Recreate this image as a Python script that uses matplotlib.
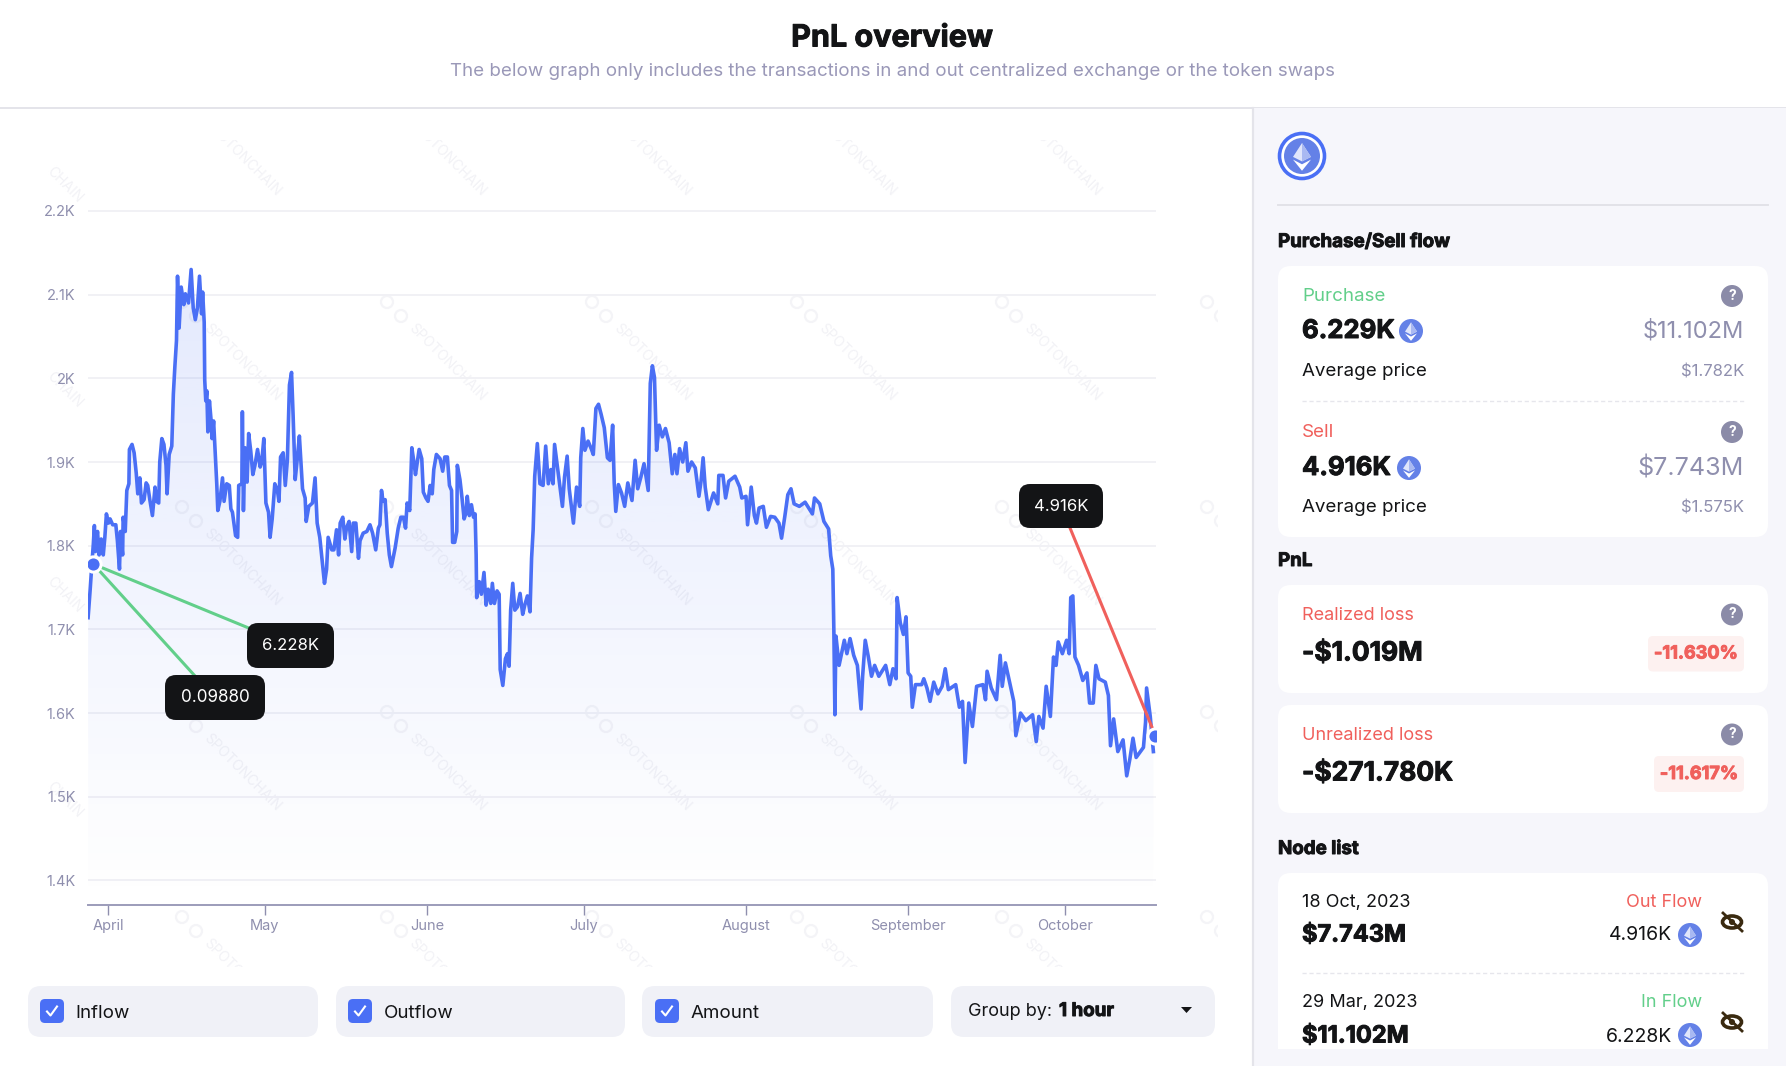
import numpy as np
import matplotlib
matplotlib.use("Agg")
import matplotlib.pyplot as plt
import matplotlib.patheffects as pe
from matplotlib.patches import FancyBboxPatch, Circle, Ellipse, Polygon, Rectangle

W, H = 1786, 1066
plt.rcParams['font.family'] = ['Inter', 'DejaVu Sans']

# days since 1 April 2023, price in USD
days_a = [-3.8,-3.4,-3.1,-2.8,-2.6,-2.4,-2.0,-1.7,-1.3,-0.9,
          -0.6,-0.3,0.1,0.4,0.9,1.5,1.8,2.2,2.4,2.8,
          2.9,3.3,3.6,4.0,4.1,4.6,5.0,5.4,5.7,6.1,
          6.4,6.9,7.3,7.6,8.0,8.5,9.0,9.3,9.7,9.9,
          10.3,10.7,11.1,11.3,11.7,12.2,12.5,12.8,13.1,13.3,
          13.6,14.0,14.5,14.8,15.4,15.9,16.3,16.7,17.1,17.5,
          17.9,18.1,18.4,18.5,18.7,18.9,19.1,19.4,19.7,19.9,
          20.2,20.5,20.8,21.0,21.4,21.9,22.2,22.7,23.2,23.5,
          23.8,24.4,24.8,25.0,25.6,25.7,25.9,26.2,26.6,26.9,
          27.3,27.7,28.1,28.6,29.1,29.4,29.8,30.2,30.7,31.0,
          31.4,31.9,32.4,32.7,33.0,33.5,33.9,34.3,34.7,35.1,
          35.4,35.8,36.2,36.6,37.2,37.7,37.9,38.4,39.1,39.6,
          40.0,40.5,40.9,41.4,41.8,42.1,42.8,43.2,43.7,44.1,
          44.4,44.9,45.3,45.6,46.1,46.6,46.9,47.4,47.9,48.2,
          48.8,49.5,50.1,50.6,51.2,51.7,52.0,52.3,52.6,53.0,
          53.4,53.8,54.2,54.9,55.5,56.0,56.5,56.9,57.2,57.7,
          58.1,58.5,58.8,59.5,60.0,60.3,60.8,61.2,61.6,62.0,
          62.3,62.8,63.5,64.0,64.4,64.9,65.3,65.7,65.9,66.3,
          66.7,66.8,67.3,67.7,68.1,68.5,68.7,69.1,69.5,69.9,
          70.2,70.4,70.5,71.0,71.4,71.9,72.3,72.7,73.2,73.5,
          73.9,74.4,74.8,75.0,75.5,76.0,76.4,76.7,77.0,77.4,
          77.8,78.3,78.8,79.3,79.7,80.2,80.7,81.0,81.3,81.6,
          82.1,82.6,83.2,83.7,84.2,84.7,85.1,85.4,85.9,86.3]
price_a = [1714,1748,1776,1802,1824,1793,1817,1789,1808,1789,
           1810,1838,1827,1832,1825,1825,1806,1772,1817,1789,
           1834,1817,1866,1874,1915,1921,1911,1887,1862,1881,
           1851,1855,1875,1872,1855,1836,1870,1853,1851,1900,
           1928,1921,1896,1862,1909,1919,1981,2015,2045,2122,
           2060,2109,2088,2101,2090,2130,2084,2070,2084,2122,
           2077,2103,2067,1998,1973,1985,1936,1973,1951,1928,
           1949,1911,1874,1842,1853,1881,1853,1874,1872,1844,
           1840,1812,1810,1872,1874,1960,1842,1917,1876,1934,
           1913,1885,1896,1915,1894,1900,1928,1851,1840,1810,
           1832,1874,1866,1853,1906,1911,1872,1902,1992,2007,
           1956,1879,1904,1931,1868,1857,1829,1847,1851,1881,
           1827,1810,1785,1755,1772,1810,1795,1795,1819,1789,
           1827,1834,1808,1821,1829,1793,1827,1827,1785,1806,
           1815,1817,1825,1815,1795,1821,1825,1866,1853,1855,
           1815,1789,1775,1797,1821,1834,1834,1821,1851,1842,
           1917,1900,1885,1915,1904,1864,1857,1853,1872,1862,
           1891,1909,1904,1889,1906,1906,1872,1866,1804,1804,
           1817,1896,1879,1857,1832,1840,1859,1836,1849,1834,
           1838,1789,1738,1757,1742,1768,1729,1748,1731,1755,
           1731,1746,1742,1652,1633,1665,1671,1656,1723,1755,
           1723,1727,1743,1718,1729,1740,1721,1785,1819,1883,
           1922,1874,1872,1919,1874,1891,1874,1921,1896,1876]
days_b = [86.9,87.3,87.8,88.2,89.0,89.6,90.2,90.4,90.8,91.2,
          91.8,92.4,92.8,93.3,93.8,94.3,94.9,95.5,96.0,96.5,
          96.8,97.1,97.6,98.2,98.8,99.4,100.2,100.8,101.3,101.9,
          102.5,103.3,103.7,104.1,104.5,104.9,105.4,106.0,106.6,107.3,
          107.9,108.4,108.8,109.3,109.9,110.5,110.9,111.6,112.3,113.0,
          113.4,113.8,114.2,114.8,115.8,116.6,116.8,117.6,118.1,118.7,
          119.9,120.8,121.2,122.0,122.3,123.0,123.6,124.0,124.5,125.3,
          125.9,126.7,127.5,128.3,128.8,129.4,130.0,130.6,131.2,132.2,
          133.3,134.7,135.1,136.1,136.9,137.8,138.2,138.6,138.8,139.0,
          139.2,139.8,140.2,140.8,141.3,141.9,142.6,143.3,144.0,144.3,
          144.8,145.4,146.0,146.6,147.4,148.7,149.5,150.1,150.7,150.9,
          151.5,152.1,152.6,153.0,153.5,153.8,154.4,155.6,156.0,156.6,
          157.2,157.9,158.7,159.5,160.1,160.7,162.1,162.8,163.4,163.9,
          164.6,165.3,166.1,167.3,167.8,168.1,168.9,169.9,170.6,171.0,
          171.6,172.4,173.2,173.6,174.5,175.5,176.8,177.5,178.0,178.8,
          179.4,180.2,180.8,181.3,181.7,182.5,183.3,183.8,184.1,184.5,
          184.9,185.6,186.4,187.2,187.7,188.4,188.9,189.5,190.7,191.3,
          191.7,192.3,193.1,194.1,194.8,195.4,196.0,196.6,198.0,198.4,
          198.6,199.3,199.9]
price_b = [1847,1882,1907,1868,1827,1870,1847,1905,1940,1914,
           1925,1916,1909,1964,1969,1957,1941,1905,1902,1944,
           1875,1841,1873,1863,1847,1875,1854,1902,1868,1882,
           1898,1866,1994,2015,2001,1914,1944,1930,1940,1923,
           1886,1909,1886,1916,1900,1923,1889,1900,1893,1859,
           1877,1905,1870,1843,1863,1850,1884,1884,1857,1877,
           1883,1870,1857,1859,1825,1870,1836,1827,1845,1847,
           1822,1835,1834,1827,1809,1834,1861,1868,1850,1847,
           1852,1838,1857,1850,1829,1820,1788,1772,1699,1598,
           1692,1657,1669,1687,1671,1689,1669,1657,1605,1644,
           1687,1667,1644,1657,1644,1657,1634,1653,1641,1738,
           1708,1694,1715,1648,1644,1607,1634,1634,1641,1630,
           1614,1637,1623,1632,1653,1628,1634,1607,1614,1541,
           1612,1584,1632,1634,1616,1650,1630,1616,1669,1632,
           1660,1637,1614,1573,1600,1591,1598,1566,1596,1582,
           1632,1596,1667,1657,1685,1671,1687,1671,1738,1740,
           1667,1657,1639,1648,1612,1612,1657,1641,1637,1621,
           1561,1593,1554,1568,1525,1545,1570,1547,1559,1589,
           1630,1596,1554]

month_days = [0, 30, 61, 91, 122, 153, 183]
month_names = ['April', 'May', 'June', 'July', 'August', 'September', 'October']
y_ticks = [1400, 1500, 1600, 1700, 1800, 1900, 2000, 2100, 2200]
y_labels = ['1.4K', '1.5K', '1.6K', '1.7K', '1.8K', '1.9K', '2K', '2.1K', '2.2K']

# flow nodes on the chart
buy_day, buy_price = -2.8, 1778
sell_day, sell_price = 200.3, 1573

BLUE = '#4a6ff5'
GREEN = '#62cf8a'
RED = '#f0605c'
DARK = '#131416'
GREY = '#8f8fae'
ETH = '#6481e7'

fig = plt.figure(figsize=(W / 100, H / 100), dpi=100, facecolor='white')


def full_axes(z):
    a = fig.add_axes([0, 0, 1, 1], zorder=z)
    a.set_xlim(0, W)
    a.set_ylim(H, 0)
    a.axis('off')
    return a


bg = full_axes(0)
ui = full_axes(5)

# watermark behind the chart
wm_clip = Rectangle((28, 140), 1190, 827, transform=bg.transData)
for wx in range(-23, 1230, 205):
    for wy in range(97, 960, 205):
        for off, rad in ((0, 6), (14, 6)):
            c = Circle((wx + off, wy + off), rad, fill=False, ec='#f4f4f7', lw=1.6)
            bg.add_patch(c)
            c.set_clip_path(wm_clip)
        if wx < 0:
            # only the tail of the word shows in the left column
            t = bg.text(wx + 72, wy + 72, 'CHAIN', fontsize=10, color='#f2f2f6', rotation=-45,
                        rotation_mode='anchor', ha='left', va='center', clip_on=True)
        elif wx > 1150:
            continue
        else:
            t = bg.text(wx + 24, wy + 24, 'SPOTONCHAIN', fontsize=10, color='#f2f2f6', rotation=-45,
                        rotation_mode='anchor', ha='left', va='center', clip_on=True)
        t.set_clip_path(wm_clip)

# main chart
days = np.array(days_a + days_b)
price = np.array(price_a + price_b)
ax = fig.add_axes([88 / W, (H - 904.5) / H, 1068 / W, 789.5 / H], zorder=2)
ax.patch.set_alpha(0)
x_lim = (-3.82, 200.4)
y_lim = (1371.3, 2314.6)

shade = np.zeros((256, 1, 4))
shade[:, 0, 0:3] = matplotlib.colors.to_rgb(BLUE)
shade[:, 0, 3] = np.linspace(0.15, 0.0, 256)
im = ax.imshow(shade, extent=(x_lim[0], x_lim[1], y_lim[0], 2130), origin='upper', aspect='auto', zorder=1)
area = ax.fill_between(days, price, y_lim[0], color='none', lw=0)
im.set_clip_path(area.get_paths()[0], transform=ax.transData)

ax.plot(days, price, color=BLUE, lw=2.6, solid_joinstyle='round', zorder=3)

ax.set_xlim(*x_lim)
ax.set_ylim(*y_lim)
ax.set_yticks(y_ticks)
ax.set_yticklabels(y_labels)
ax.set_xticks(month_days)
ax.set_xticklabels(month_names)
ax.tick_params(axis='y', length=0, pad=9, labelsize=10.5, labelcolor=GREY)
ax.tick_params(axis='x', length=7, width=1, color=GREY, pad=3.5, labelsize=10.5, labelcolor=GREY)
ax.grid(axis='y', color='#f1f1f5', lw=1.4)
ax.set_axisbelow(True)
for s in ['top', 'left', 'right']:
    ax.spines[s].set_visible(False)
ax.spines['bottom'].set_color('#9c9cba')
ax.spines['bottom'].set_linewidth(1.4)

# callout lines, boxes sit in the ui layer
for (dx, py, col, cx, cy) in [(buy_day, buy_price, GREEN, 290, 645),
                              (buy_day, buy_price, GREEN, 215, 698),
                              (sell_day, sell_price, RED, 1061, 506)]:
    ax.annotate('', xy=(dx, py), xytext=(cx, cy), textcoords=ui.transData, annotation_clip=False,
                arrowprops=dict(arrowstyle='-', color=col, lw=2.2, shrinkA=0, shrinkB=0), zorder=4)
ax.scatter([buy_day, sell_day], [buy_price, sell_price], s=120, color=BLUE, edgecolor='white', linewidth=2.2,
           zorder=5, clip_on=True)


def box(x0, y0, x1, y1, r, fc, ec='none', z=1):
    p = FancyBboxPatch((x0, y0), x1 - x0, y1 - y0, boxstyle=f'round,pad=0,rounding_size={r}',
                       fc=fc, ec=ec, lw=0, zorder=z)
    ui.add_patch(p)
    return p


def txt(x, y, s, size, color=DARK, weight='normal', ha='left', z=3):
    t = ui.text(x, y + 2.5, s, fontsize=size, color=color, fontweight=weight, ha=ha, va='center', zorder=z)
    if weight == 'bold':
        # poppins bold is heavier than what inter gives here
        t.set_path_effects([pe.withStroke(linewidth=0.7, foreground=color)])
    return t


def eth_icon(x, y, r):
    ui.add_patch(Circle((x, y), r, fc=ETH, ec='none', zorder=3))
    w, h = r * 0.5, r * 0.72
    ui.add_patch(Polygon([(x, y - h), (x + w, y + 0.05 * r), (x, y + 0.3 * r), (x - w, y + 0.05 * r)],
                         fc='#dfe5fb', ec='none', zorder=4))
    ui.add_patch(Polygon([(x, y - h), (x + w, y + 0.05 * r), (x, y + 0.3 * r)], fc='#a9b9f2', ec='none', zorder=4))
    ui.add_patch(Polygon([(x - w, y + 0.2 * r), (x, y + 0.46 * r), (x + w, y + 0.2 * r), (x, y + 0.82 * r)],
                         fc='white', ec='none', zorder=4))


def help_icon(x, y):
    ui.add_patch(Circle((x, y), 11, fc='#8b8ba8', ec='none', zorder=3))
    ui.text(x, y, '?', fontsize=10, color='white', fontweight='bold', ha='center', va='center', zorder=4)


def eye_icon(x, y):
    col = '#3a2a10'
    ui.add_patch(Ellipse((x, y), 19, 12, fc='none', ec=col, lw=2.6, zorder=3))
    ui.add_patch(Circle((x, y), 3, fc=col, ec='none', zorder=3))
    ui.plot([x - 9, x + 10], [y - 9, y + 9], color=col, lw=2, zorder=4)


# header
txt(892, 36, 'PnL overview', 22, DARK, 'bold', 'center')
txt(892, 69, 'The below graph only includes the transactions in and out centralized exchange or the token swaps',
    13.5, '#9a98b8', 'normal', 'center')
ui.plot([0, W], [107.5, 107.5], color='#e4e4ea', lw=1.4, zorder=1)

# callout boxes
for (x0, y0, x1, y1, s, fs) in [(247, 623, 334, 668, '6.228K', 12), (165, 675, 265, 720, '0.09880', 12.3),
                                (1019, 484, 1103, 528, '4.916K', 12)]:
    box(x0, y0, x1, y1, 11, DARK, z=4)
    txt((x0 + x1) / 2, (y0 + y1) / 2 - 2, s, fs, 'white', 'normal', 'center', z=5)

# sidebar
ui.add_patch(Rectangle((1253, 108), W - 1253, H - 108, fc='#f6f6fb', ec='none', zorder=1))
ui.plot([1253, 1253], [108, H], color='#e4e4ea', lw=1.6, zorder=1)
ui.add_patch(Circle((1302, 156), 22.5, fc='white', ec=BLUE, lw=2.6, zorder=2))
eth_icon(1302, 156, 18)
ui.plot([1278, 1768], [205, 205], color='#e2e2e8', lw=1.4, zorder=1)

txt(1278, 240, 'Purchase/Sell flow', 13.5, DARK, 'bold')
box(1278, 266, 1768, 537, 13, 'white', z=2)
txt(1302, 294, 'Purchase', 13.5, GREEN)
help_icon(1732, 296)
txt(1302, 329, '6.229K', 18.5, DARK, 'bold')
eth_icon(1411, 331, 12)
txt(1744, 329, '$11.102M', 17, GREY, 'normal', 'right')
txt(1302, 369, 'Average price', 13.5, DARK)
txt(1744, 369, '$1.782K', 12, GREY, 'normal', 'right')
ui.plot([1302, 1744], [401, 401], color='#e6e6ec', lw=1, ls=(0, (3, 2)), zorder=3)
txt(1302, 430, 'Sell', 13.5, RED)
help_icon(1732, 432)
txt(1302, 466, '4.916K', 18.5, DARK, 'bold')
eth_icon(1409, 468, 12)
txt(1744, 466, '$7.743M', 18, GREY, 'normal', 'right')
txt(1302, 505, 'Average price', 13.5, DARK)
txt(1744, 505, '$1.575K', 12, GREY, 'normal', 'right')

txt(1278, 559, 'PnL', 13.5, DARK, 'bold')
box(1278, 585, 1768, 693, 13, 'white', z=2)
txt(1302, 612.5, 'Realized loss', 13, RED)
help_icon(1732, 614.5)
txt(1302, 651, '-$1.019M', 19, DARK, 'bold')
box(1648, 636, 1744, 671.5, 5, '#fdf1f0', z=3)
txt(1696, 651.5, '-11.630%', 13, RED, 'bold', 'center', z=4)

box(1278, 705, 1768, 813, 13, 'white', z=2)
txt(1302, 732.5, 'Unrealized loss', 13, RED)
help_icon(1732, 734.5)
txt(1302, 771, '-$271.780K', 19, DARK, 'bold')
box(1654, 756, 1744, 792, 5, '#fdf1f0', z=3)
txt(1699, 772, '-11.617%', 13, RED, 'bold', 'center', z=4)

txt(1278, 847, 'Node list', 13.5, DARK, 'bold')
box(1278, 873, 1768, 1080, 13, 'white', z=2)
txt(1302, 900, '18 Oct, 2023', 13, DARK)
txt(1702, 900, 'Out Flow', 13, RED, 'normal', 'right')
txt(1302, 933, '$7.743M', 17, DARK, 'bold')
txt(1672, 933, '4.916K', 14, DARK, 'normal', 'right')
eth_icon(1690, 935, 12)
eye_icon(1732, 922)
ui.plot([1302, 1744], [972.5, 972.5], color='#e6e6ec', lw=1, ls=(0, (3, 2)), zorder=3)
txt(1302, 1000, '29 Mar, 2023', 13, DARK)
txt(1702, 1000, 'In Flow', 13, GREEN, 'normal', 'right')
txt(1302, 1034, '$11.102M', 17, DARK, 'bold')
txt(1672, 1034, '6.228K', 14, DARK, 'normal', 'right')
eth_icon(1690, 1035, 12)
eye_icon(1732, 1022)
# list scrolls under the page edge
ui.add_patch(Rectangle((1270, 1049), 510, 20, fc='#f6f6fb', ec='none', zorder=6))

# bottom controls
for (x0, x1, tick_x, label, lab_x) in [(28, 318, 40, 'Inflow', 75), (336, 625, 348, 'Outflow', 384),
                                       (642, 933, 655, 'Amount', 691)]:
    box(x0, 986, x1, 1037, 13, '#f0f1f7', z=2)
    box(tick_x, 999, tick_x + 24, 1023, 5, BLUE, z=3)
    ui.plot([tick_x + 7, tick_x + 10.5, tick_x + 17], [1011.5, 1015.5, 1006.5], color='white', lw=1.5, zorder=4)
    txt(lab_x, 1011, label, 13.5, DARK)
box(951, 986, 1215, 1037, 13, '#f0f1f7', z=2)
txt(968, 1009, 'Group by:', 13, DARK)
txt(1059, 1009, '1 hour', 13.5, DARK, 'bold')
ui.add_patch(Polygon([(1181, 1007), (1192, 1007), (1186.5, 1013)], fc=DARK, ec='none', zorder=3))

fig.savefig('out.png', dpi=100)
